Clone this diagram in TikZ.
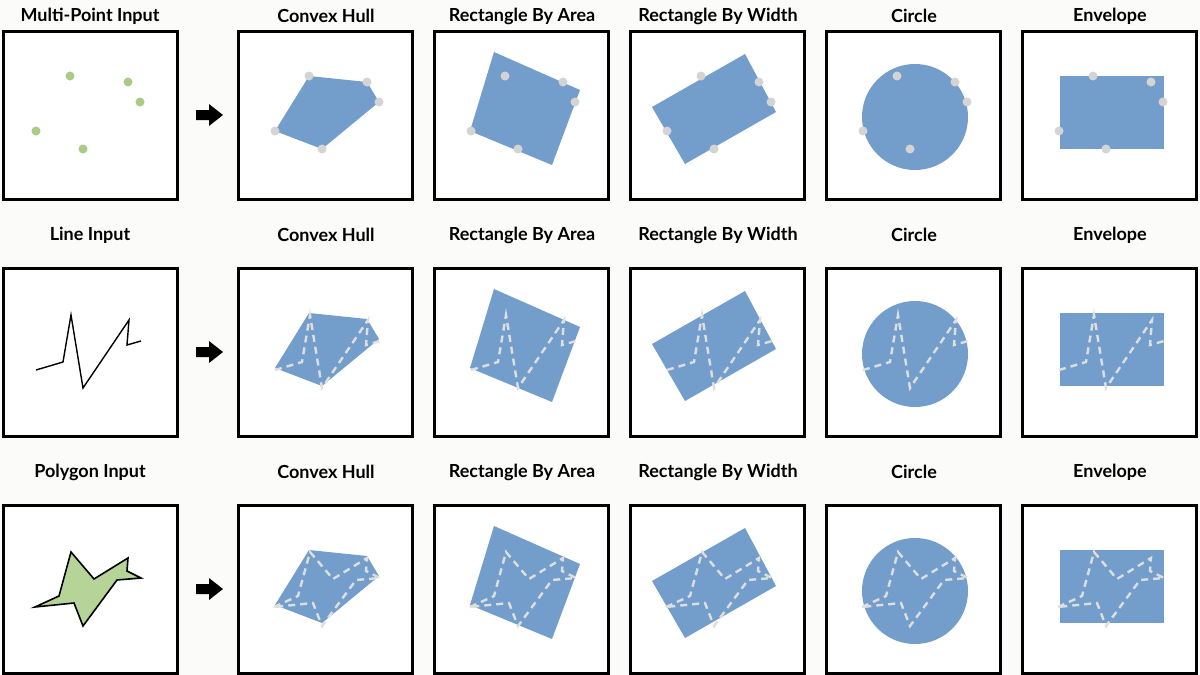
\documentclass[tikz,border=0pt]{standalone}
\usepackage{fontspec}
\setmainfont{Lato}
\begin{document}
\begin{tikzpicture}[x=1pt,y=-1pt,
  frame/.style={draw=black,line width=3pt,fill=white},
  ttl/.style={font=\bfseries\fontsize{18}{20}\selectfont,anchor=center},
  blue/.style={fill=shapeblue,draw=none},
  pt/.style={fill=ptgray,draw=none},
  dsh/.style={draw=dashgray,line width=2.4pt,dash pattern=on 7pt off 5pt}]
\definecolor{shapeblue}{RGB}{115,158,204}
\definecolor{ptgray}{RGB}{212,212,212}
\definecolor{dashgray}{RGB}{222,222,222}
\definecolor{ptgreen}{RGB}{168,203,134}
\definecolor{polygreen}{RGB}{182,212,152}
\definecolor{bg}{RGB}{251,252,250}
\fill[bg] (0,0) rectangle (1200,675);
\useasboundingbox (0,0) rectangle (1200,675);
\def\cols{3/1,238/2,434/3,630/4,826/5,1022/6}
% titles
\foreach \tx/\nm/\lab in {90/a/Multi-Point Input,326/b/Convex Hull,522/c/Rectangle By Area,718/d/Rectangle By Width,914/e/Circle,1110/f/Envelope}{
  \node[ttl] (t1\nm) at (\tx,16) {\lab};}
\foreach \tx/\nm/\lab in {90/a/Line Input,326/b/Convex Hull,522/c/Rectangle By Area,718/d/Rectangle By Width,914/e/Circle,1110/f/Envelope}{
  \node[ttl] (t2\nm) at (\tx,235) {\lab};}
\foreach \tx/\nm/\lab in {90/a/Polygon Input,326/b/Convex Hull,522/c/Rectangle By Area,718/d/Rectangle By Width,914/e/Circle,1110/f/Envelope}{
  \node[ttl] (t3\nm) at (\tx,472) {\lab};}
% frames
\foreach \Y in {31,268,505}{
  \foreach \X/\c in \cols{
    \draw[frame] (\X,\Y) rectangle ++(174,168);}
  % arrow
  \fill[black] (196,\Y+79) -- (209,\Y+79) -- (209,\Y+73) -- (223,\Y+84) -- (209,\Y+95) -- (209,\Y+89) -- (196,\Y+89) -- cycle;
  % result shapes
  \fill[shapeblue] (238+71,\Y+45) -- (238+129,\Y+51) -- (238+141,\Y+71) -- (238+84,\Y+118) -- (238+37,\Y+100) -- cycle;
  \fill[shapeblue] (434+60,\Y+21) -- (434+146,\Y+59) -- (434+118,\Y+134) -- (434+36,\Y+100) -- cycle;
  \fill[shapeblue] (630+22,\Y+76) -- (630+115,\Y+23) -- (630+146,\Y+81) -- (630+55,\Y+133) -- cycle;
  \fill[shapeblue] (826+89,\Y+86) circle (53);
  \fill[shapeblue] (1022+38,\Y+45) rectangle (1022+142,\Y+118);
}
% row 1 points
\foreach \px/\py in {67/45,125/51,137/71,33/100,80/118}{
  \fill[ptgreen] (3+\px,31+\py) circle (4.5);}
\foreach \X in {238,434,630,826,1022}{
  \foreach \px/\py in {67/45,125/51,137/71,33/100,80/118}{
    \fill[pt] (\X+\px+4,31+\py) circle (4.5);}}
% row 2 line
\draw[black,line width=1.4pt,line join=miter] (3+33,268+102) -- (3+60,268+94) -- (3+68,268+47) -- (3+80,268+120) -- (3+126,268+52) -- (3+124,268+77) -- (3+138,268+73);
\foreach \X in {238,434,630,826,1022}{
  \draw[dsh] (\X+37,268+102) -- (\X+64,268+94) -- (\X+72,268+47) -- (\X+84,268+120) -- (\X+130,268+52) -- (\X+128,268+77) -- (\X+142,268+73);}
% row 3 polygon
\filldraw[fill=polygreen,draw=black,line width=1.6pt,line join=miter] (3+32,505+102) -- (3+56,505+91) -- (3+68,505+47) -- (3+91,505+74) -- (3+125,505+53) -- (3+124,505+66) -- (3+138,505+73) -- (3+114,505+75) -- (3+80,505+121) -- (3+71,505+98) -- cycle;
\foreach \X in {238,434,630,826,1022}{
  \draw[dsh] (\X+36,505+102) -- (\X+60,505+91) -- (\X+72,505+47) -- (\X+95,505+74) -- (\X+129,505+53) -- (\X+128,505+66) -- (\X+142,505+73) -- (\X+118,505+75) -- (\X+84,505+121) -- (\X+75,505+98) -- cycle;}
\end{tikzpicture}
\end{document}
